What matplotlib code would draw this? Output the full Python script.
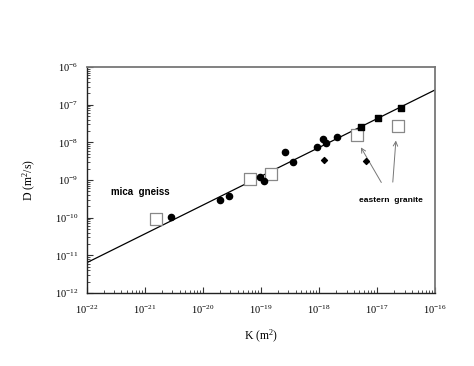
import numpy as np
import matplotlib.pyplot as plt

plt.rcParams['font.family'] = ['Liberation Serif', 'DejaVu Serif']
plt.rcParams['mathtext.fontset'] = 'custom'
plt.rcParams['mathtext.rm'] = 'Liberation Serif'
plt.rcParams['mathtext.it'] = 'Liberation Serif:italic'

# 数据 (log10 值, 从图上读出)
open_sq_logK = [-20.80, -19.19, -18.82, -17.34, -16.63]
open_sq_logD = [-10.04, -8.98, -8.84, -7.81, -7.58]

circ_logK = [-20.55, -19.71, -19.54, -19.01, -18.94, -18.58, -18.45,
             -18.04, -17.92, -17.88, -17.69]
circ_logD = [-9.99, -9.53, -9.43, -8.93, -9.02, -8.25, -8.52,
             -8.13, -7.91, -8.01, -7.85]

fsq_logK = [-17.28, -16.98, -16.59]
fsq_logD = [-7.60, -7.36, -7.08]

diam_logK = [-17.91, -17.18]
diam_logD = [-8.47, -8.49]

fit_logK = [-22.0, -16.0]
fit_logD = [-11.2, -6.61]

xticks = [1e-22, 1e-21, 1e-20, 1e-19, 1e-18, 1e-17, 1e-16]
yticks = [1e-12, 1e-11, 1e-10, 1e-9, 1e-8, 1e-7, 1e-6]

p = lambda a: 10.0 ** np.array(a)

fig = plt.figure(figsize=(4.74, 3.66), dpi=100)
ax = fig.add_axes([0.1825, 0.1995, 0.7352, 0.6175])
ax.set_xscale('log')
ax.set_yscale('log')

ax.plot(p(fit_logK), p(fit_logD), color='black', lw=0.9, zorder=2)
ax.scatter(p(open_sq_logK), p(open_sq_logD), marker='s', s=75,
           facecolor='white', edgecolor='#888888', linewidth=0.9, zorder=3)
ax.scatter(p(circ_logK), p(circ_logD), marker='o', s=20,
           color='black', zorder=4)
ax.scatter(p(fsq_logK), p(fsq_logD), marker='s', s=22,
           color='black', zorder=4)
ax.scatter(p(diam_logK), p(diam_logD), marker='D', s=9,
           color='black', zorder=4)

# 注释
ax.text(10 ** -21.57, 10 ** -9.33, 'mica  gneiss', family='Liberation Sans',
        fontsize=7, fontweight='bold', va='center', ha='left')
ax.text(10 ** -16.2, 10 ** -9.55, 'eastern  granite', family='Liberation Sans',
        fontsize=6, fontweight='bold', va='center', ha='right')
ax.annotate('', xy=(10 ** -17.30, 10 ** -8.07), xytext=(10 ** -16.90, 10 ** -9.13),
            arrowprops=dict(arrowstyle='->', color='#777777', lw=0.7,
                            mutation_scale=8))
ax.annotate('', xy=(10 ** -16.67, 10 ** -7.88), xytext=(10 ** -16.73, 10 ** -9.13),
            arrowprops=dict(arrowstyle='->', color='#777777', lw=0.7,
                            mutation_scale=8))

ax.set_xlim(1e-22, 1e-16)
ax.set_ylim(1e-12, 1e-6)
ax.set_xticks(xticks)
ax.set_yticks(yticks)
ax.tick_params(which='both', direction='in', top=False, right=False,
               labelsize=7.5, color='#333333')
ax.tick_params(which='major', length=4, pad=6)
ax.tick_params(axis='x', which='major', pad=8)
ax.tick_params(which='minor', length=2)

for s in ['top', 'right']:
    ax.spines[s].set_color('#777777')
    ax.spines[s].set_linewidth(1.3)
for s in ['left', 'bottom']:
    ax.spines[s].set_color('#222222')
    ax.spines[s].set_linewidth(1.0)

ax.set_xlabel('K (m$^2$)', fontsize=8.5, labelpad=8)
ax.set_ylabel('D (m$^2$/s)', fontsize=8.5, labelpad=12)

plt.savefig('out.png', dpi=100)
